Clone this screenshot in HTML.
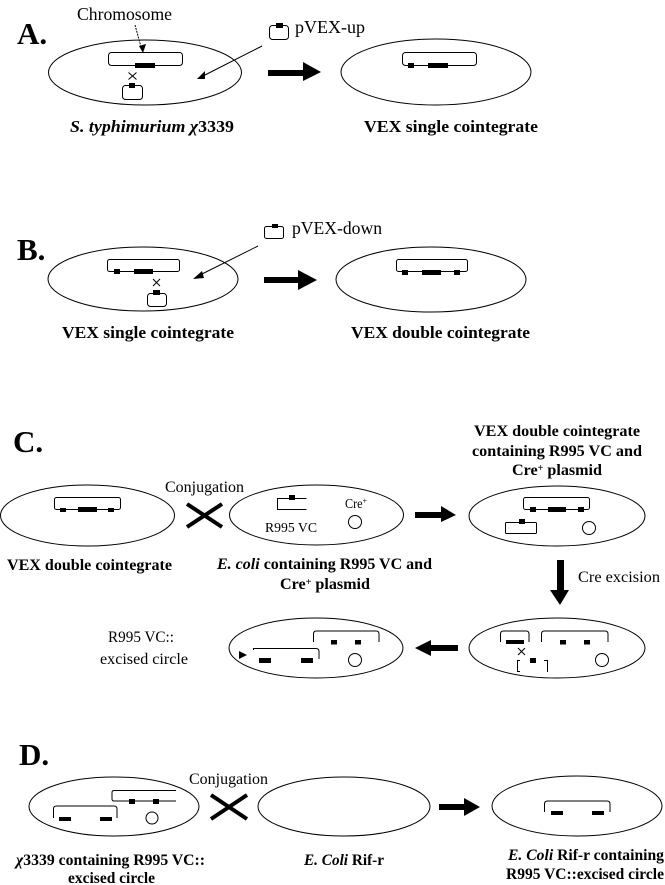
<!DOCTYPE html>
<html><head><meta charset="utf-8"><style>
html,body{margin:0;padding:0;background:#fff}
svg{display:block}
text{font-family:"Liberation Serif",serif;fill:#000}
.b{font-weight:bold;font-size:17px}
.c{font-weight:bold;font-size:16px}
.h{font-weight:bold;font-size:31px}
.n{font-size:17.5px}
.m{font-size:16px}
.s{font-size:14px}
.l{fill:none;stroke:#000;stroke-width:1}
.k{fill:#000;stroke:none}
.x{fill:none;stroke:#000;stroke-width:4}
</style></head><body>
<svg width="665" height="885" viewBox="0 0 665 885" xmlns="http://www.w3.org/2000/svg">
<!-- A -->
<text class="h" x="17" y="44">A.</text>
<text class="n" x="77" y="20" textLength="95" lengthAdjust="spacingAndGlyphs">Chromosome</text>
<ellipse class="l" cx="145" cy="72.500" rx="96.500" ry="32.500"/>
<path class="l" stroke-dasharray="2 1" d="M135 25L141 47"/>
<path class="k" d="M139 46L146 44L143 53Z"/>
<rect class="l" x="108.500" y="52.500" width="74" height="13" rx="3"/>
<rect class="k" x="135" y="63" width="20" height="5"/>
<path class="l" d="M128.500 72.500l8 7m0-7l-8 7"/>
<rect class="l" x="122.500" y="85.500" width="20" height="14" rx="3"/>
<rect class="k" x="129" y="83" width="6" height="5"/>
<rect class="l" x="269.500" y="25.500" width="19" height="14" rx="3"/>
<rect class="k" x="276" y="23" width="7" height="5"/>
<text class="n" x="295" y="33" textLength="70" lengthAdjust="spacingAndGlyphs">pVEX-up</text>
<path class="l" d="M262 46L205 75"/>
<path class="k" d="M197 79L205 71L205 79Z"/>
<path class="k" d="M268 70H303V62L321 72L303 81V76H268Z"/>
<ellipse class="l" cx="436" cy="72" rx="95" ry="33"/>
<rect class="l" x="402.500" y="52.500" width="74" height="13" rx="3"/>
<rect class="k" x="408" y="63" width="6" height="5"/>
<rect class="k" x="428" y="63" width="20" height="5"/>
<text class="b" x="70" y="132" textLength="164" lengthAdjust="spacingAndGlyphs"><tspan font-style="italic">S. typhimurium χ</tspan><tspan font-style="normal">3339</tspan></text>
<text class="b" x="364" y="132" textLength="174" lengthAdjust="spacingAndGlyphs">VEX single cointegrate</text>
<!-- B -->
<text class="h" x="17" y="260">B.</text>
<ellipse class="l" cx="143" cy="279" rx="95" ry="32"/>
<rect class="l" x="107.500" y="259.500" width="72" height="12" rx="2"/>
<rect class="k" x="114" y="269" width="6" height="5"/>
<rect class="k" x="134" y="269" width="19" height="5"/>
<path class="l" d="M153 279l7 7m0-7l-7 7"/>
<rect class="l" x="147.500" y="293.500" width="19" height="13" rx="3"/>
<rect class="k" x="153" y="290" width="7" height="5"/>
<rect class="l" x="264.500" y="226.500" width="19" height="12" rx="2"/>
<rect class="k" x="272" y="224" width="6" height="4"/>
<text class="n" x="292" y="234" textLength="90" lengthAdjust="spacingAndGlyphs">pVEX-down</text>
<path class="l" d="M258 246L202 274"/>
<path class="k" d="M193 279L202 271L204 278Z"/>
<path class="k" d="M264 277H298V270L317 280L298 290V283H264Z"/>
<ellipse class="l" cx="431" cy="279.500" rx="95" ry="32.500"/>
<rect class="l" x="396.500" y="259.500" width="71" height="12" rx="2"/>
<rect class="k" x="402" y="270" width="6" height="5"/>
<rect class="k" x="422" y="270" width="19" height="5"/>
<rect class="k" x="454" y="270" width="6" height="5"/>
<text class="b" x="62" y="338" textLength="172" lengthAdjust="spacingAndGlyphs">VEX single cointegrate</text>
<text class="b" x="351" y="338" textLength="179" lengthAdjust="spacingAndGlyphs">VEX double cointegrate</text>
<!-- C -->
<text class="h" x="13" y="452">C.</text>
<ellipse class="l" cx="87.500" cy="515.500" rx="87" ry="30.500"/>
<rect class="l" x="54.500" y="497.500" width="66" height="12" rx="2"/>
<rect class="k" x="60" y="508" width="6" height="4"/>
<rect class="k" x="78" y="507" width="19" height="5"/>
<rect class="k" x="108" y="508" width="6" height="4"/>
<text class="c" x="7" y="570" textLength="165" lengthAdjust="spacingAndGlyphs">VEX double cointegrate</text>
<text class="m" x="165" y="492" textLength="79" lengthAdjust="spacingAndGlyphs">Conjugation</text>
<path class="x" d="M187 504L222 527M222 504L187 527"/>
<ellipse class="l" cx="316.500" cy="515" rx="87" ry="30"/>
<path class="l" d="M306.500 498.500H277.500V509.500H306.500"/>
<rect class="k" x="289" y="495" width="6" height="5"/>
<text class="s" x="265" y="532" textLength="52" lengthAdjust="spacingAndGlyphs">R995 VC</text>
<text class="s" x="345" y="508" textLength="22" lengthAdjust="spacingAndGlyphs">Cre<tspan font-size="9" dy="-4">+</tspan></text>
<circle class="l" cx="355" cy="522" r="6.500"/>
<text class="c" x="217" y="569" textLength="215" lengthAdjust="spacingAndGlyphs"><tspan font-style="italic">E. coli</tspan> containing R995 VC and</text>
<text class="c" x="280" y="589" textLength="90" lengthAdjust="spacingAndGlyphs">Cre<tspan font-size="10" dy="-4">+</tspan><tspan dy="4"> plasmid</tspan></text>
<path class="k" d="M415 512H441V506L456 515L441 522V518H415Z"/>
<text class="c" x="474" y="436" textLength="166" lengthAdjust="spacingAndGlyphs">VEX double cointegrate</text>
<text class="c" x="472" y="456" textLength="170" lengthAdjust="spacingAndGlyphs">containing R995 VC and</text>
<text class="c" x="512" y="475" textLength="90" lengthAdjust="spacingAndGlyphs">Cre<tspan font-size="10" dy="-4">+</tspan><tspan dy="4"> plasmid</tspan></text>
<ellipse class="l" cx="557" cy="516" rx="88" ry="30"/>
<rect class="l" x="523.500" y="497.500" width="66" height="12" rx="2"/>
<rect class="k" x="530" y="507" width="6" height="5"/>
<rect class="k" x="548" y="507" width="18" height="5"/>
<rect class="k" x="578" y="507" width="6" height="5"/>
<rect class="l" x="505.500" y="522.500" width="31" height="11" rx="1"/>
<rect class="k" x="519" y="519" width="6" height="5"/>
<circle class="l" cx="589" cy="528" r="6.500"/>
<path class="k" d="M557 560H564V590H569L560 605L550 590H557Z"/>
<text class="m" x="578" y="582" textLength="82" lengthAdjust="spacingAndGlyphs">Cre excision</text>
<!-- C row 2 -->
<ellipse class="l" cx="557" cy="648" rx="88" ry="30"/>
<path class="l" d="M500.500 642V634q0-3 3-3H526q3 0 3 3V642"/>
<rect class="k" x="506" y="640" width="18" height="4"/>
<path class="l" d="M518 648l7 7m0-7l-7 7"/>
<path class="l" d="M541.500 642V634q0-3 3-3H605q3 0 3 3V642"/>
<rect class="k" x="560" y="640" width="6" height="4.500"/>
<rect class="k" x="584" y="640" width="6" height="4.500"/>
<path class="l" d="M520 660.500H517.500V671.500H520M544 660.500H547.500V672"/>
<rect class="k" x="530" y="658" width="6" height="5"/>
<circle class="l" cx="602" cy="660" r="6.500"/>
<path class="k" d="M415 648L431 640V645H458V651H431V656Z"/>
<ellipse class="l" cx="316" cy="648" rx="87" ry="30"/>
<path class="l" d="M313.500 642V634q0-3 3-3H376q3 0 3 3V642"/>
<rect class="k" x="331" y="640" width="6" height="4.500"/>
<rect class="k" x="355" y="640" width="6" height="4.500"/>
<path class="l" d="M253.500 650V648.500H316q3 0 3 3V659"/>
<rect class="k" x="259" y="658" width="12" height="5"/>
<rect class="k" x="301" y="658" width="12" height="5"/>
<path class="k" d="M239 651L247 655L239 659Z"/>
<circle class="l" cx="355" cy="660" r="6.500"/>
<text class="m" x="108" y="642" textLength="66" lengthAdjust="spacingAndGlyphs">R995 VC::</text>
<text class="m" x="100" y="664" textLength="88" lengthAdjust="spacingAndGlyphs">excised circle</text>
<!-- D -->
<text class="h" x="19" y="765">D.</text>
<text class="m" x="189" y="784" textLength="79" lengthAdjust="spacingAndGlyphs">Conjugation</text>
<ellipse class="l" cx="114" cy="806.500" rx="85" ry="29.500"/>
<path class="l" d="M176 790.500H114q-2 0-2 2V799q0 2 2 2H176"/>
<rect class="k" x="129" y="799" width="6" height="5"/>
<rect class="k" x="153" y="799" width="6" height="5"/>
<path class="l" stroke-width="1.500" d="M53.500 818V809q0-3 3-3H114q3 0 3 3V818"/>
<rect class="k" x="59" y="817" width="12" height="4"/>
<rect class="k" x="100" y="817" width="12" height="4"/>
<circle class="l" cx="152" cy="818" r="6"/>
<path class="x" d="M211 795L247 819M247 795L211 819"/>
<ellipse class="l" cx="344" cy="806.500" rx="86" ry="29.500"/>
<path class="k" d="M439 804H464V798L480 807L464 816V810H439Z"/>
<ellipse class="l" cx="577" cy="806" rx="85" ry="30"/>
<path class="l" d="M544.500 812V804q0-3 3-3H607q3 0 3 3V812"/>
<rect class="k" x="551" y="811" width="12" height="4"/>
<rect class="k" x="592" y="811" width="12" height="4"/>
<text class="c" x="16" y="865" textLength="189" lengthAdjust="spacingAndGlyphs"><tspan font-style="italic">χ</tspan>3339 containing R995 VC::</text>
<text class="c" x="68" y="883" textLength="87" lengthAdjust="spacingAndGlyphs">excised circle</text>
<text class="c" x="304" y="865" textLength="80" lengthAdjust="spacingAndGlyphs"><tspan font-style="italic">E. Coli</tspan> Rif-r</text>
<text class="c" x="508" y="860" textLength="156" lengthAdjust="spacingAndGlyphs"><tspan font-style="italic">E. Coli</tspan> Rif-r containing</text>
<text class="c" x="506" y="879" textLength="158" lengthAdjust="spacingAndGlyphs">R995 VC::excised circle</text>
</svg>
</body></html>
